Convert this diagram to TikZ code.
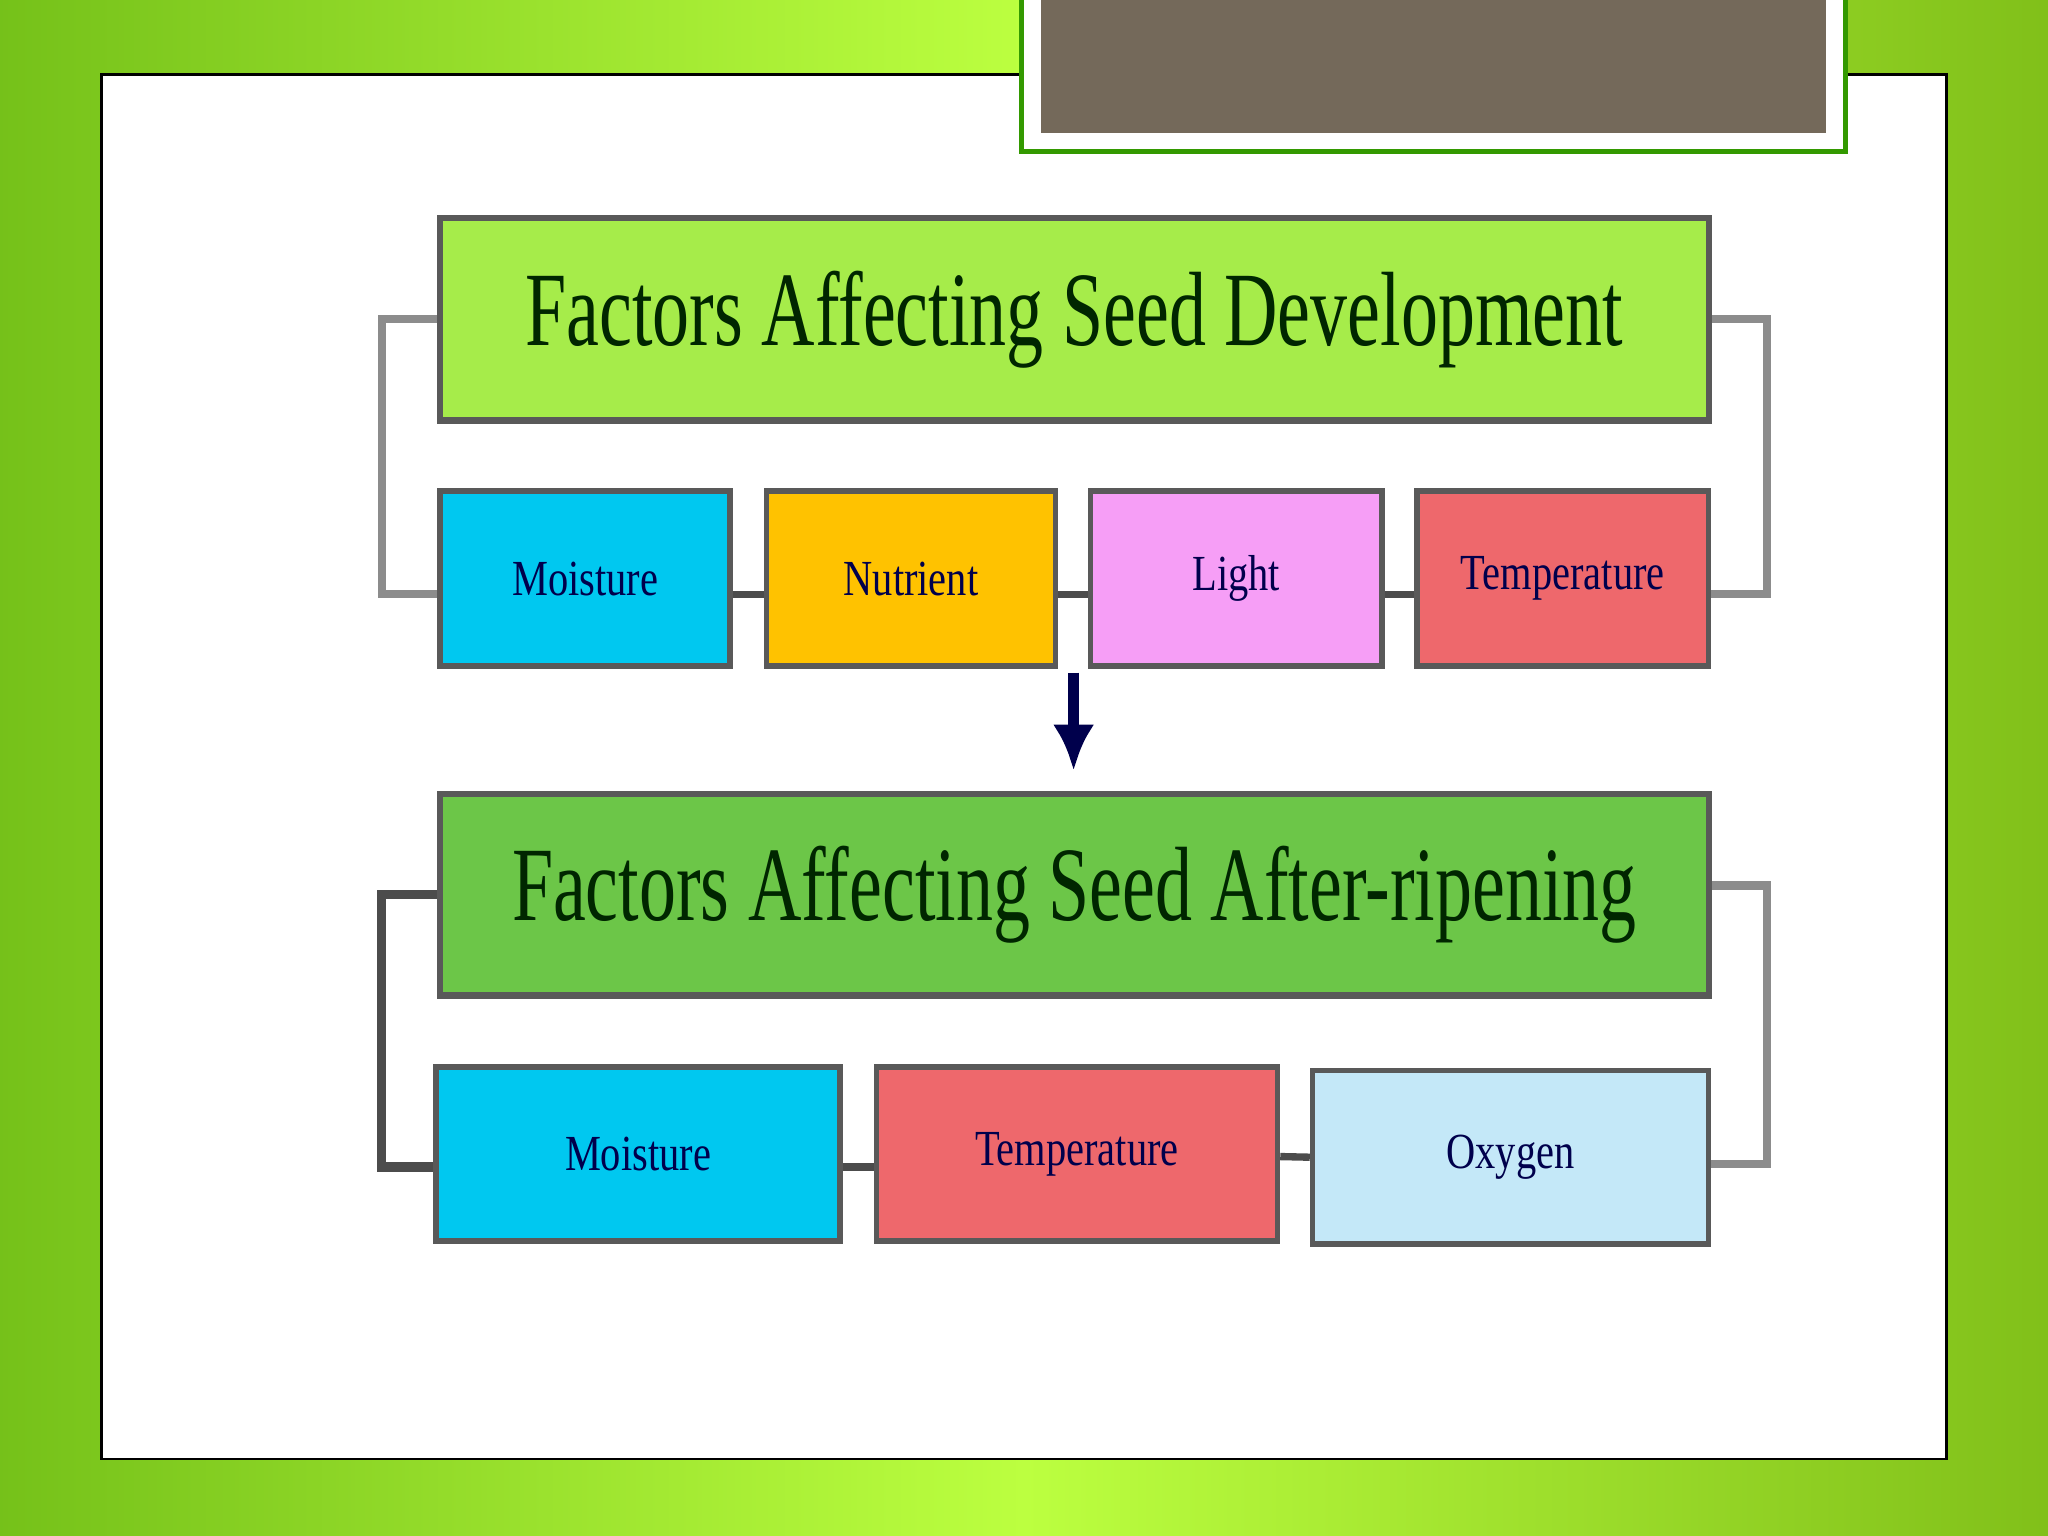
\documentclass[tikz,border=0pt]{standalone}
\usepackage{fontspec}
\setmainfont{Liberation Serif}
\usepackage{graphicx}
\usetikzlibrary{arrows.meta}
\begin{document}
\begin{tikzpicture}[x=0.01cm,y=-0.01cm,
  box/.style={draw=black!65,line width=1.2pt,minimum height=1.34cm,inner sep=0pt},
  title/.style={draw=black!65,line width=1.4pt,minimum width=9.71cm,minimum height=1.55cm,inner sep=0pt},
  lab/.style={text=blue!30!black},
  link/.style={draw=black!70,line width=1.6pt},
  blink/.style={draw=black!45,line width=1.8pt}]
\useasboundingbox (0,0) rectangle (1568,1176);
\shade[left color=green!55!black!60!yellow!90, right color=green!50!black!55!yellow!90, middle color=green!35!yellow!75] (0,0) rectangle (1568,1176);
\fill[white] (78,57) rectangle (1490,1117);
\draw[black,line width=0.6pt] (78,57) rectangle (1490,1117);
\fill[white] (782,0) rectangle (1413,116);
\draw[green!50!black!80!yellow,line width=1pt] (782,-5) -- (782,116) -- (1413,116) -- (1413,-5);
\fill[fill={rgb,255:red,116;green,105;blue,90}] (797,0) rectangle (1398,102);

\definecolor{lime}{RGB}{166,236,74}
\definecolor{grn}{RGB}{108,198,72}
\definecolor{cy}{RGB}{0,200,240}
\definecolor{ye}{RGB}{255,194,0}
\definecolor{pk}{RGB}{246,158,246}
\definecolor{rd}{RGB}{238,104,108}
\definecolor{lb}{RGB}{196,232,248}

\node[title,fill=lime] (t1) at (822.5,244.5) {\scalebox{0.7}[1]{\fontsize{23}{23}\selectfont\color{black!85!green} Factors Affecting Seed Development}};
\node[box,fill=cy,minimum width=2.22cm] (a1) at (448,443) {\scalebox{0.8}[1]{\fontsize{11}{11}\selectfont\color{blue!30!black}Moisture}};
\node[box,fill=ye,minimum width=2.21cm] (a2) at (697.5,443) {\scalebox{0.8}[1]{\fontsize{11}{11}\selectfont\color{blue!30!black}Nutrient}};
\node[box,fill=pk,minimum width=2.23cm] (a3) at (946.5,443) {\scalebox{0.8}[1]{\fontsize{11}{11}\selectfont\color{blue!30!black}Light}};
\node[box,fill=rd,minimum width=2.23cm] (a4) at (1196.5,443) {\scalebox{0.8}[1]{\fontsize{11}{11}\selectfont\color{blue!30!black}Temperature}};

\node[title,fill=grn,minimum height=1.54cm] (t2) at (822.5,685) {\scalebox{0.7}[1]{\fontsize{23}{23}\selectfont\color{black!85!green} Factors Affecting Seed After-ripening}};
\node[box,fill=cy,minimum width=3.09cm,minimum height=1.33cm] (b1) at (488.5,883.5) {\scalebox{0.8}[1]{\fontsize{11}{11}\selectfont\color{blue!30!black}Moisture}};
\node[box,fill=rd,minimum width=3.07cm,minimum height=1.33cm] (b2) at (824.5,883.5) {\scalebox{0.8}[1]{\fontsize{11}{11}\selectfont\color{blue!30!black}Temperature}};
\node[box,fill=lb,minimum width=3.03cm,minimum height=1.33cm] (b3) at (1156.5,886) {\scalebox{0.8}[1]{\fontsize{11}{11}\selectfont\color{blue!30!black}Oxygen}};

\draw[blink] (t1.west) -- ++(-42,0) |- ([yshift=-0.12cm]a1.west);
\draw[blink] (t1.east) -- ++(42,0) |- ([yshift=-0.12cm]a4.east);
\draw[link] ([yshift=-0.12cm]a1.east) -- ([yshift=-0.12cm]a2.west);
\draw[link] ([yshift=-0.12cm]a2.east) -- ([yshift=-0.12cm]a3.west);
\draw[link] ([yshift=-0.12cm]a3.east) -- ([yshift=-0.12cm]a4.west);

\draw[link,line width=2pt] (t2.west) -- ++(-42,0) |- ([yshift=-0.1cm]b1.west);
\draw[blink] ([yshift=0.07cm]t2.east) -- ++(42,0) |- ([yshift=-0.05cm]b3.east);
\draw[link] ([yshift=-0.1cm]b1.east) -- ([yshift=-0.1cm]b2.west);
\draw[link] ([yshift=-0.02cm]b2.east) -- ([yshift=0cm]b3.west);

\coordinate (arS) at (822,515);
\coordinate (arE) at (822,590);
\draw[-{Latex[length=10pt,width=9pt]},line width=2.5pt,blue!30!black] (arS) -- (arE);
\end{tikzpicture}
\end{document}
